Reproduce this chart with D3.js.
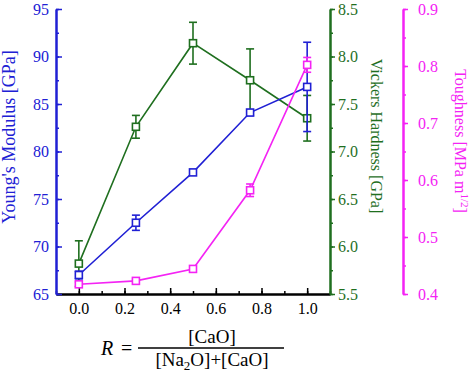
<!DOCTYPE html>
<html>
<head>
<meta charset="utf-8">
<script src="https://cdn.jsdelivr.net/npm/d3@7"></script>
<style>
  body { margin: 0; background: #fff; }
</style>
</head>
<body>
<svg id="chart" width="474" height="376"></svg>
<script>
// R = [CaO]/([Na2O]+[CaO])
const ratio = [0, 0.25, 0.5, 0.75, 1.0]

// Young's modulus [GPa]
const youngs = [67.0, 72.5, 77.8, 84.1, 86.8]
const youngsErr = [0.4, 0.8, 0.2, 0.3, 4.7]

// Vickers hardness [GPa]
const vickers = [5.82, 7.26, 8.14, 7.75, 7.35]
const vickersErr = [0.24, 0.12, 0.22, 0.33, 0.24]

// Toughness [MPa m^1/2]
const toughness = [0.417, 0.423, 0.444, 0.582, 0.802]
const toughnessErr = [0.004, 0.003, 0.003, 0.011, 0.013]

const xTicks = [0, 0.2, 0.4, 0.6, 0.8, 1.0]
const youngsTicks = [65, 70, 75, 80, 85, 90, 95]
const vickersTicks = [5.5, 6.0, 6.5, 7.0, 7.5, 8.0, 8.5]
const toughTicks = [0.4, 0.5, 0.6, 0.7, 0.8, 0.9]

const BLUE = '#2020d4'
const GREEN = '#1f6f1f'
const MAGENTA = '#f423f4'
const SERIF = '"Liberation Serif", "Times New Roman", Tinos, "DejaVu Serif", "Noto Serif", serif'

const svg = d3.select('#chart')
const plotTop = 9
const plotBottom = 294
const plotLeft = 56
const plotRight = 330
const toughX = 403
const TICK_FONT = 16

const x = d3.scaleLinear().domain([-0.1, 1.1]).range([plotLeft, plotRight])
const yY = d3.scaleLinear().domain([65, 95]).range([plotBottom, plotTop])
const yV = d3.scaleLinear().domain([5.5, 8.5]).range([plotBottom, plotTop])
const yT = d3.scaleLinear().domain([0.4, 0.9]).range([plotBottom, plotTop])

function styleAxis(g, color, size) {
  g.attr('font-family', SERIF).attr('font-size', size)
  g.selectAll('path').attr('stroke', color).attr('stroke-width', 2)
  g.selectAll('line').attr('stroke', color).attr('stroke-width', 1.5)
  g.selectAll('text').attr('fill', color)
}

// minor ticks first so the major axes sit on top
const minor = (axis, scale, step) => {
  const d = scale.domain()
  return axis(scale).tickValues(d3.range(d[0], d[1] + step / 2, step)).tickSizeInner(-3).tickSizeOuter(0).tickFormat('')
}

// x axis
svg.append('g').attr('transform', `translate(0,${plotBottom})`)
  .call(minor(d3.axisBottom, x, 0.1))
  .call((g) => styleAxis(g, '#000', TICK_FONT))
svg.append('g').attr('transform', `translate(0,${plotBottom})`)
  .call(d3.axisBottom(x).tickValues(xTicks).tickFormat(d3.format('.1f')).tickSizeInner(-6).tickSizeOuter(0).tickPadding(9))
  .call((g) => styleAxis(g, '#000', TICK_FONT))

// left axis (Young's modulus)
svg.append('g').attr('transform', `translate(${plotLeft},0)`)
  .call(minor(d3.axisLeft, yY, 2.5))
  .call((g) => styleAxis(g, BLUE, TICK_FONT))
svg.append('g').attr('transform', `translate(${plotLeft},0)`)
  .call(d3.axisLeft(yY).tickValues(youngsTicks).tickSizeInner(-6).tickSizeOuter(0).tickPadding(7))
  .call((g) => styleAxis(g, BLUE, TICK_FONT))

// right axis (Vickers)
svg.append('g').attr('transform', `translate(${plotRight},0)`)
  .call(d3.axisRight(yV).tickValues(d3.range(5.5, 8.55, 0.25)).tickSizeInner(3).tickSizeOuter(0).tickFormat(''))
  .call((g) => styleAxis(g, GREEN, TICK_FONT))
svg.append('g').attr('transform', `translate(${plotRight},0)`)
  .call(d3.axisRight(yV).tickValues(vickersTicks).tickFormat(d3.format('.1f')).tickSizeInner(5).tickSizeOuter(0).tickPadding(3))
  .call((g) => styleAxis(g, GREEN, TICK_FONT))

// far right axis (toughness)
svg.append('g').attr('transform', `translate(${toughX},0)`)
  .call(d3.axisRight(yT).tickValues(d3.range(0.4, 0.91, 0.05)).tickSizeInner(3).tickSizeOuter(0).tickFormat(''))
  .call((g) => styleAxis(g, MAGENTA, TICK_FONT))
svg.append('g').attr('transform', `translate(${toughX},0)`)
  .call(d3.axisRight(yT).tickValues(toughTicks).tickFormat(d3.format('.1f')).tickSizeInner(5).tickSizeOuter(0).tickPadding(10))
  .call((g) => styleAxis(g, MAGENTA, TICK_FONT))

// series
function drawSeries(values, errs, yScale, color) {
  const pts = ratio.map((r, i) => ({ r, v: values[i], e: errs[i] }))
  const g = svg.append('g')
  g.append('path')
    .datum(pts)
    .attr('fill', 'none')
    .attr('stroke', color)
    .attr('stroke-width', 1.6)
    .attr('d', d3.line().x((d) => x(d.r)).y((d) => yScale(d.v)))
  const eb = g.selectAll('g.err').data(pts).join('g').attr('stroke', color).attr('stroke-width', 1.6)
  eb.append('line')
    .attr('x1', (d) => x(d.r)).attr('x2', (d) => x(d.r))
    .attr('y1', (d) => yScale(d.v - d.e)).attr('y2', (d) => yScale(d.v + d.e))
  eb.append('line')
    .attr('x1', (d) => x(d.r) - 4).attr('x2', (d) => x(d.r) + 4)
    .attr('y1', (d) => yScale(d.v + d.e)).attr('y2', (d) => yScale(d.v + d.e))
  eb.append('line')
    .attr('x1', (d) => x(d.r) - 4).attr('x2', (d) => x(d.r) + 4)
    .attr('y1', (d) => yScale(d.v - d.e)).attr('y2', (d) => yScale(d.v - d.e))
  g.selectAll('rect').data(pts).join('rect')
    .attr('x', (d) => x(d.r) - 3.5)
    .attr('y', (d) => yScale(d.v) - 3.5)
    .attr('width', 7)
    .attr('height', 7)
    .attr('fill', '#fff')
    .attr('stroke', color)
    .attr('stroke-width', 1.6)
}

drawSeries(vickers, vickersErr, yV, GREEN)
drawSeries(youngs, youngsErr, yY, BLUE)
drawSeries(toughness, toughnessErr, yT, MAGENTA)

const label = (sel) => sel.attr('font-family', SERIF)

// axis titles
svg.append('text').call(label)
  .attr('transform', `translate(15,137) rotate(-90)`)
  .attr('text-anchor', 'middle')
  .attr('fill', BLUE)
  .attr('font-size', 18)
  .text("Young's Modulus [GPa]")

svg.append('text').call(label)
  .attr('transform', `translate(371,136) rotate(90)`)
  .attr('text-anchor', 'middle')
  .attr('fill', GREEN)
  .attr('font-size', 16)
  .text('Vickers Hardness [GPa]')

const tt = svg.append('text').call(label)
  .attr('transform', `translate(455,141) rotate(90)`)
  .attr('text-anchor', 'middle')
  .attr('fill', MAGENTA)
  .attr('font-size', 16)
tt.append('tspan').text('Toughness [MPa m')
tt.append('tspan').attr('dy', -6).attr('font-size', 11).text('1/2')
tt.append('tspan').attr('dy', 6).text(']')

// x-axis formula
const fx = 212
svg.append('text').call(label).attr('x', 101).attr('y', 355).attr('font-size', 20).attr('font-style', 'italic').text('R')
svg.append('text').call(label).attr('x', 121).attr('y', 355).attr('font-size', 20).text('=')
svg.append('line').attr('x1', 138).attr('x2', 284).attr('y1', 348).attr('y2', 348).attr('stroke', '#000').attr('stroke-width', 1.3)
svg.append('text').call(label).attr('x', fx).attr('y', 343).attr('text-anchor', 'middle').attr('font-size', 19).text('[CaO]')
const den = svg.append('text').call(label).attr('x', fx).attr('y', 366).attr('text-anchor', 'middle').attr('font-size', 19)
den.append('tspan').text('[Na')
den.append('tspan').attr('dy', 4).attr('font-size', 13).text('2')
den.append('tspan').attr('dy', -4).text('O]+[CaO]')
</script>
</body>
</html>
